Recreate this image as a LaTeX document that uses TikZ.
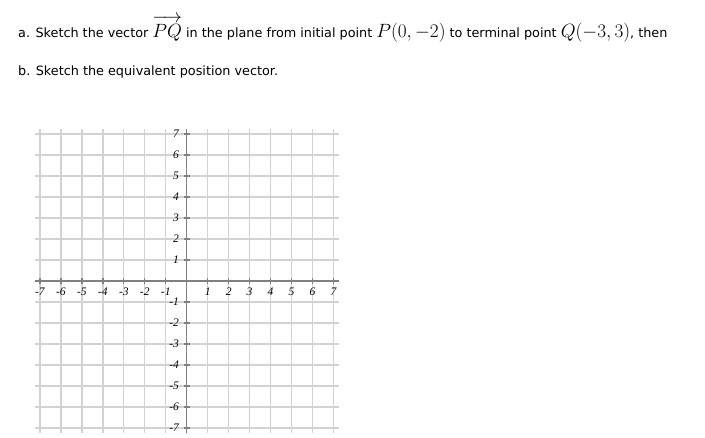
\documentclass[tikz,border=0pt]{standalone}
\usepackage{amsmath}
\usepackage{graphicx}
\usepackage{fontspec}
\setmainfont{DejaVu Sans}
\newfontfamily\labelfont{Liberation Serif}
\usetikzlibrary{positioning}

\begin{document}
\begin{tikzpicture}[x=1pt,y=1pt]
\tikzstyle{prompt} = [anchor=base west, inner sep=0pt, font=\fontsize{12.8}{15}\selectfont]
\tikzstyle{gridline} = [draw=gray!35, line width=1.4pt]
\tikzstyle{axisline} = [draw=gray, line width=1.4pt]
\tikzstyle{ticklabel} = [inner sep=0pt, font=\labelfont\itshape\fontsize{11.5}{12}\selectfont]
\newcommand{\mbig}[1]{\scalebox{1.11}{\fontsize{17.28}{20}\selectfont$#1$}}

\useasboundingbox (0,0) rectangle (705,438);

\node (parta) [prompt] at (18,400) {a. Sketch the vector \mbig{\overrightarrow{PQ\rule{0pt}{14pt}}} in the plane from initial point \mbig{P(0,-2)} to terminal point \mbig{Q(-3,3)}, then};
\node (partb) [prompt] at (18,362) {b. Sketch the equivalent position vector.};

\begin{scope}[shift={(186.7,157)}, x=20.97pt, y=21pt]
\foreach \i in {-7,...,7} {
  \draw [gridline] (\i,-7.25) -- (\i,7.25);
  \draw [gridline] (-7.25,\i) -- (7.25,\i);
}
\draw [axisline] (-7.25,0) -- (7.25,0);
\draw [axisline] (0,-7.25) -- (0,7.25);
\foreach \i in {-7,...,-1,1,2,...,7} {
  \draw [axisline] (\i,-0.15) -- (\i,0.15);
  \draw [axisline] (-0.15,\i) -- (0.15,\i);
  \node (xl\i) [ticklabel] at (\i,-0.52) {\i};
  \node (yl\i) [ticklabel, anchor=east] at (-0.36,\i) {\i};
}
\end{scope}
\end{tikzpicture}
\end{document}
